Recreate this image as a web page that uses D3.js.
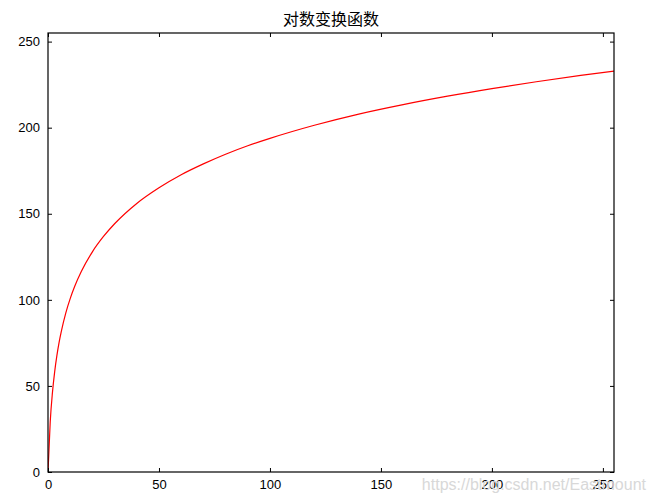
<!DOCTYPE html>
<html>
<head>
<meta charset="utf-8">
<script src="https://cdn.jsdelivr.net/npm/d3@7"></script>
<style>
  html, body { margin: 0; padding: 0; background: #fff; }
  svg { display: block; }
</style>
</head>
<body>
<svg id="chart" width="649" height="496"></svg>
<script>
const titleText = "对数变换函数";
const xValues = [0, 1, 2, 3, 4, 5, 6, 8, 10, 12, 15, 20, 25, 30, 40, 50, 60, 70, 80, 90, 100, 120, 140, 160, 180, 200, 220, 240, 255];
const yValues = [0, 29.1, 46.1, 58.2, 67.6, 75.3, 81.7, 92.3, 100.7, 107.7, 116.4, 127.9, 136.8, 144.2, 156, 165.1, 172.7, 179, 184.6, 189.5, 193.8, 201.4, 207.9, 213.4, 218.3, 222.7, 226.7, 230.4, 232.9];
const xTicks = [0, 50, 100, 150, 200, 250];
const yTicks = [0, 50, 100, 150, 200, 250];
const watermark = "https://blog.csdn.net/Eastmount";

const svg = d3.select("#chart");
const L = 48, R = 614, T = 33, B = 472;
const x = d3.scaleLinear().domain([0, 255]).range([L, R]);
const y = d3.scaleLinear().domain([0, 255]).range([B, T]);

const font = "'Liberation Sans', Arial, sans-serif";

// line
const data = xValues.map((v, i) => ({x: v, y: yValues[i]}));
const clip = svg.append("clipPath").attr("id", "clip").append("rect")
  .attr("x", L).attr("y", T).attr("width", R - L).attr("height", B - T);
svg.append("path")
  .datum(data)
  .attr("clip-path", "url(#clip)")
  .attr("fill", "none")
  .attr("stroke", "#ff0000")
  .attr("stroke-width", 1.2)
  .attr("d", d3.line().x(d => x(d.x)).y(d => y(d.y)).curve(d3.curveMonotoneX));

// axes with inward ticks
const tl = 4;
const gb = svg.append("g").attr("transform", `translate(0,${B})`)
  .call(d3.axisBottom(x).tickValues(xTicks).tickSizeInner(-tl).tickSizeOuter(0).tickPadding(8));
const gt = svg.append("g").attr("transform", `translate(0,${T})`)
  .call(d3.axisTop(x).tickValues(xTicks).tickSizeInner(-tl).tickSizeOuter(0).tickFormat(""));
const gl = svg.append("g").attr("transform", `translate(${L},0)`)
  .call(d3.axisLeft(y).tickValues(yTicks).tickSizeInner(-tl).tickSizeOuter(0).tickPadding(8));
const gr = svg.append("g").attr("transform", `translate(${R},0)`)
  .call(d3.axisRight(y).tickValues(yTicks).tickSizeInner(-tl).tickSizeOuter(0).tickFormat(""));
[gb, gt, gl, gr].forEach(g => {
  g.select(".domain").remove();
  g.selectAll("line").attr("stroke", "#000").attr("stroke-width", 1);
  g.selectAll("text").attr("font-family", font).attr("font-size", 13).attr("fill", "#000");
});

// frame
svg.append("rect").attr("x", L).attr("y", T).attr("width", R - L).attr("height", B - T)
  .attr("fill", "none").attr("stroke", "#000").attr("stroke-width", 1.2);

// title
svg.append("text").attr("x", (L + R) / 2).attr("y", 25).attr("text-anchor", "middle")
  .attr("font-family", "'Noto Sans CJK SC', sans-serif").attr("font-size", 16).attr("fill", "#000")
  .text(titleText);

// watermark
svg.append("text").attr("x", 646).attr("y", 490).attr("text-anchor", "end")
  .attr("font-family", font).attr("font-size", 16).attr("fill", "#d8d8d8")
  .text(watermark);
</script>
</body>
</html>
